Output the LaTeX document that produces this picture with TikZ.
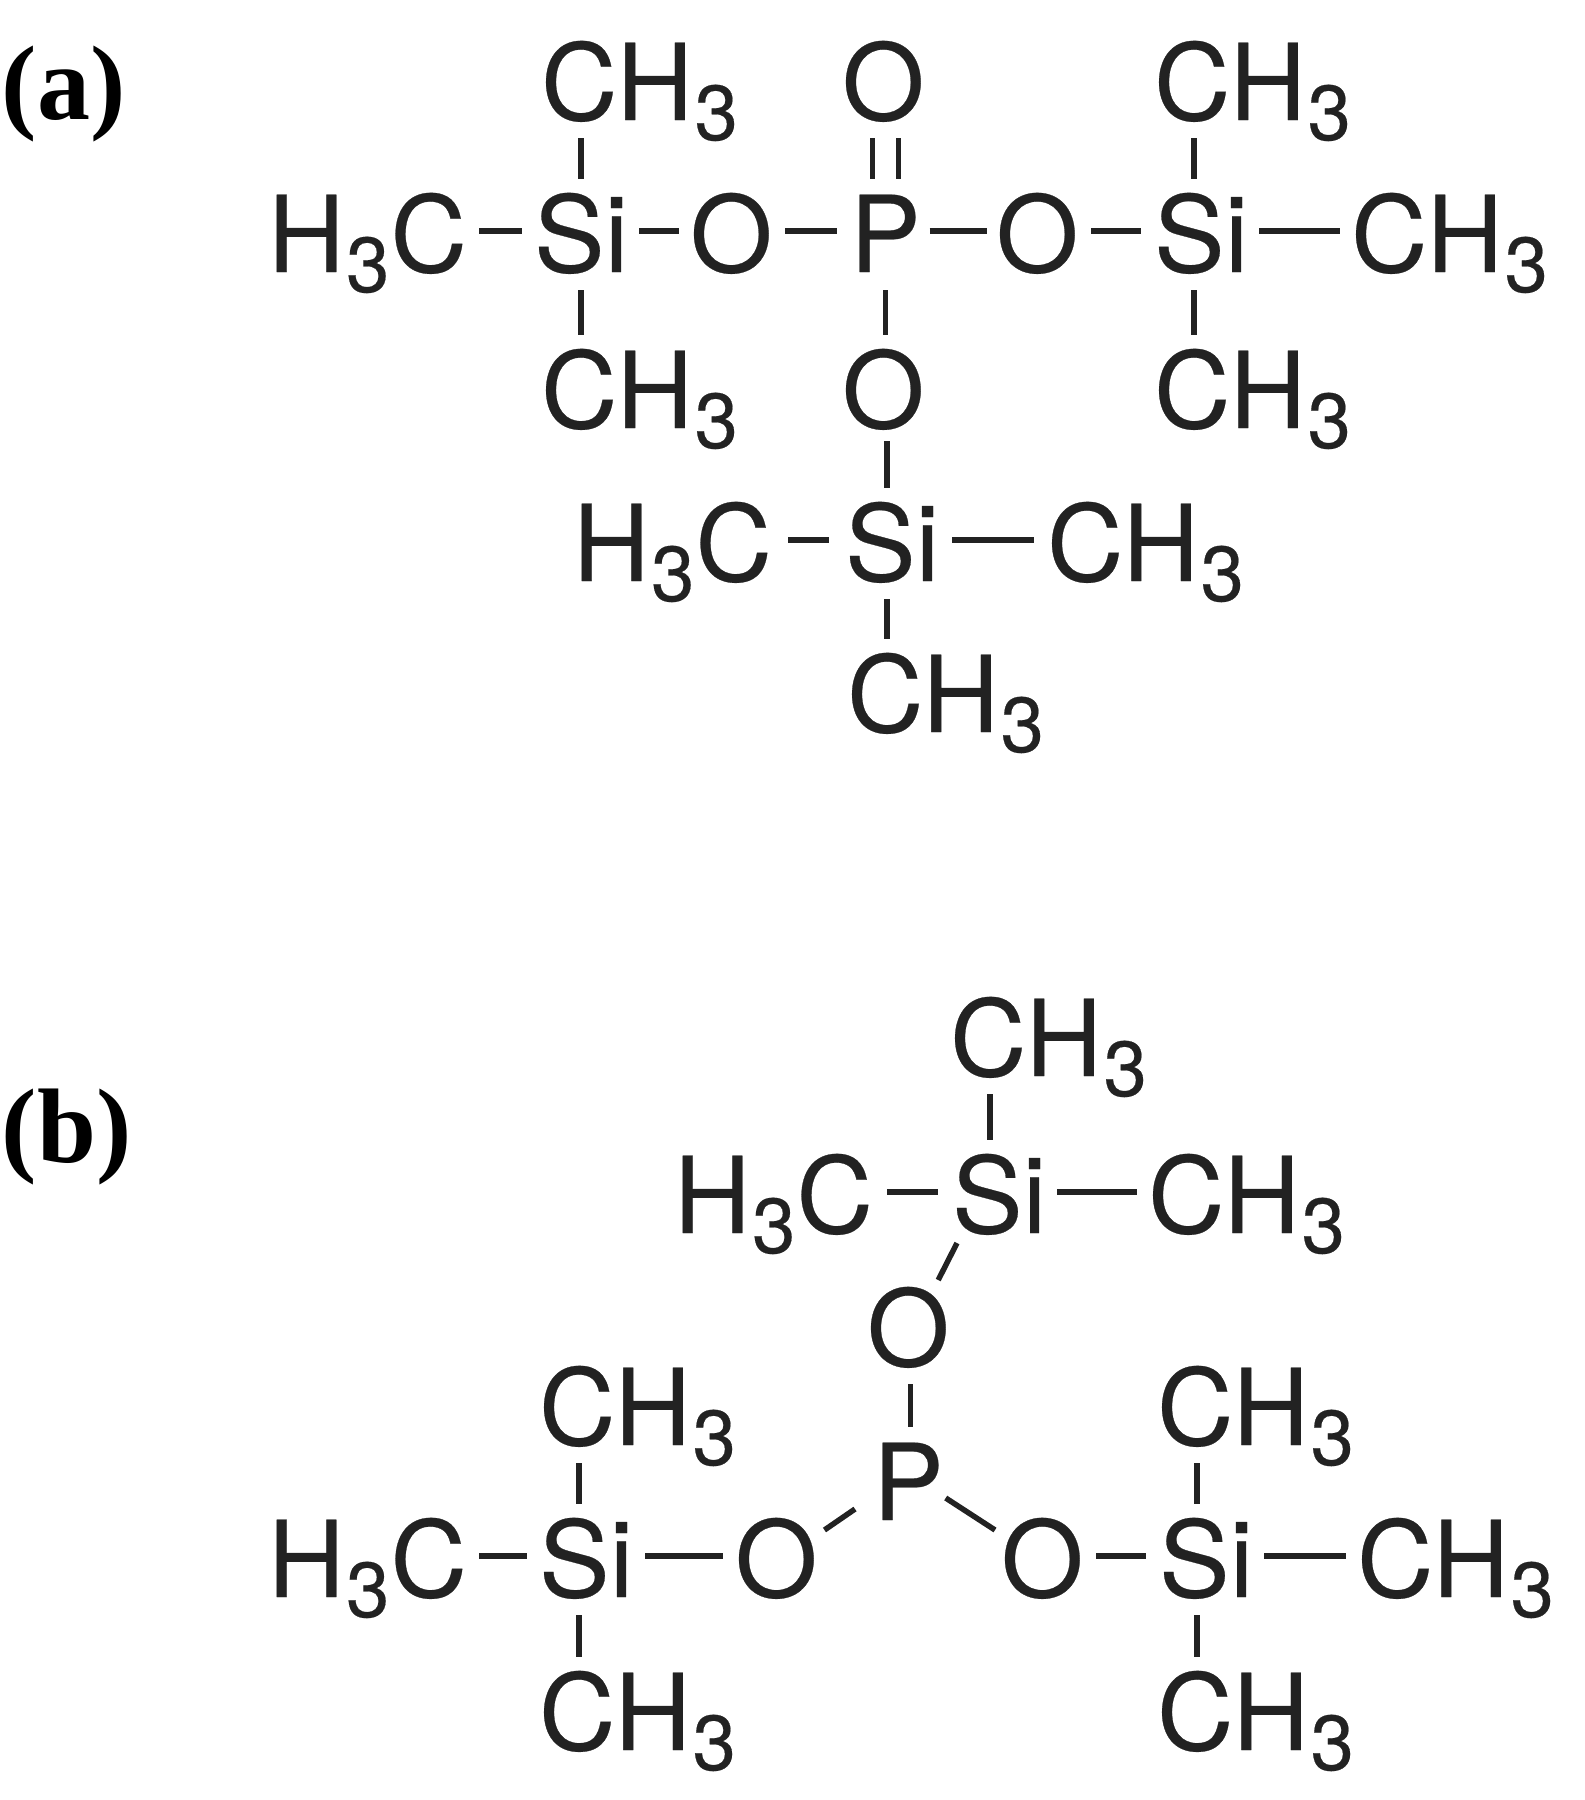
\documentclass[tikz,border=0pt]{standalone}
\usepackage{fontspec}
\setmainfont{TeX Gyre Heros}[FakeBold=0.25]
\newfontfamily\labfont{Liberation Serif}
\newcommand{\subt}{\kern0.8pt\raisebox{-10pt}{\fontsize{39}{39}\selectfont 3}}
\newcommand{\chs}{CH\subt}
\newcommand{\hcs}{H\subt\kern0.5pt C}
\newcommand{\cc}{20pt}
\definecolor{ink}{HTML}{222222}
\tikzset{
  atom/.style={inner sep=0pt,outer sep=0pt,anchor=base west,text=ink,text height=41pt,text depth=0pt,font=\fontsize{53}{60}\selectfont},
  panel/.style={inner sep=0pt,outer sep=0pt,anchor=base west,text=black,font=\labfont\bfseries\fontsize{53}{60}\selectfont},
  bond/.style={draw=ink,line width=2.75pt},
  vb/.style={bond,shorten <=9pt,shorten >=5.75pt},
  hb/.style={bond,shorten <=#1*0.5pt,shorten >=#1*0.5pt}
}
\begin{document}
\begin{tikzpicture}[x=0.5pt,y=-0.5pt]
\useasboundingbox (0,0) rectangle (1585,1800);
% panel a
\node[panel] (la) at (2,119) {(a)};
\node[atom] (a1) at (541,120) {\chs};
\node[atom] (a2) at (842,120) {O};
\node[atom] (a3) at (1154,120) {\chs};
\node[atom] (a4) at (268,272) {\hcs};
\node[atom] (a5) at (534,272) {Si};
\node[atom] (a6) at (690,272) {O};
\node[atom] (a7) at (850,272) {P};
\node[atom] (a8) at (996,272) {O};
\node[atom] (a9) at (1154,272) {Si};
\node[atom] (a10) at (1351,272) {\chs};
\node[atom] (a11) at (541,428) {\chs};
\node[atom] (a12) at (842,428) {O};
\node[atom] (a13) at (1154,428) {\chs};
\node[atom] (a14) at (573,581) {\hcs};
\node[atom] (a15) at (845,581) {Si};
\node[atom] (a16) at (1047,581) {\chs};
\node[atom] (a17) at (847,732) {\chs};
\path[vb] ([xshift=\cc]a1.south west) -- ([xshift=\cc]a1.south west |- a5.north);
\path[vb] ([xshift=-6.5pt]a7.north |- a2.south) -- ([xshift=-6.5pt]a7.north);
\path[vb] ([xshift=6.5pt]a7.north |- a2.south) -- ([xshift=6.5pt]a7.north);
\path[vb] ([xshift=\cc]a3.south west) -- ([xshift=\cc]a3.south west |- a9.north);
\path[hb=12] (a4.east) -- (a5.west);
\path[hb=11] (a5.east) -- (a6.west);
\path[hb=13] (a6.east) -- (a7.west);
\path[hb=9] (a7.east) -- (a8.west);
\path[hb=13] (a8.east) -- (a9.west);
\path[hb=11] (a9.east) -- (a10.west);
\path[vb] ([xshift=\cc]a1.south west |- a5.south) -- ([xshift=\cc]a11.north west);
\path[vb] (a7.south) -- (a7.south |- a12.north);
\path[vb] ([xshift=\cc]a3.south west |- a9.south) -- ([xshift=\cc]a13.north west);
\path[vb,shorten <=6.5pt] ([xshift=\cc]a17.north west |- a12.south) -- ([xshift=\cc]a17.north west |- a15.north);
\path[hb=16] (a14.east) -- (a15.west);
\path[hb=13] (a15.east) -- (a16.west);
\path[vb] ([xshift=\cc]a17.north west |- a15.south) -- ([xshift=\cc]a17.north west);
% panel b
\node[panel] (lb) at (2,1162) {(b)};
\node[atom] (b1) at (950,1076) {\chs};
\node[atom] (b2) at (674,1233) {\hcs};
\node[atom] (b3) at (952,1233) {Si};
\node[atom] (b4) at (1148,1233) {\chs};
\node[atom] (b5) at (867,1366) {O};
\node[atom] (b6) at (539,1445) {\chs};
\node[atom] (b7) at (1157,1445) {\chs};
\node[atom] (b8) at (873,1520) {P};
\node[atom] (b9) at (268,1597) {\hcs};
\node[atom] (b10) at (539,1597) {Si};
\node[atom] (b11) at (735,1597) {O};
\node[atom] (b12) at (1001,1597) {O};
\node[atom] (b13) at (1159,1597) {Si};
\node[atom] (b14) at (1357,1597) {\chs};
\node[atom] (b15) at (539,1750) {\chs};
\node[atom] (b16) at (1157,1750) {\chs};
\path[vb] ([xshift=\cc]b1.south west) -- ([xshift=\cc]b1.south west |- b3.north);
\path[hb=14] (b2.east) -- (b3.west);
\path[hb=11] (b3.east) -- (b4.west);
\path[bond] ([shift={(5,10)}]b3.south west) -- ([shift={(30,-4)}]b5.north);
\path[vb] ([xshift=1pt]b8.north |- b5.south) -- ([xshift=1pt]b8.north);
\path[bond] ([shift={(-18,30)}]b8.west) -- ([shift={(7,15)}]b11.north east);
\path[bond] ([shift={(2,19)}]b8.east) -- ([shift={(-6,15)}]b12.north west);
\path[vb] ([xshift=\cc]b6.south west) -- ([xshift=\cc]b6.south west |- b10.north);
\path[vb] ([xshift=\cc]b7.south west) -- ([xshift=\cc]b7.south west |- b13.north);
\path[hb=12] (b9.east) -- (b10.west);
\path[hb=12] (b10.east) -- (b11.west);
\path[hb=13] (b12.east) -- (b13.west);
\path[hb=11] (b13.east) -- (b14.west);
\path[vb] ([xshift=\cc]b6.south west |- b10.south) -- ([xshift=\cc]b15.north west);
\path[vb] ([xshift=\cc]b7.south west |- b13.south) -- ([xshift=\cc]b16.north west);
\end{tikzpicture}
\end{document}
